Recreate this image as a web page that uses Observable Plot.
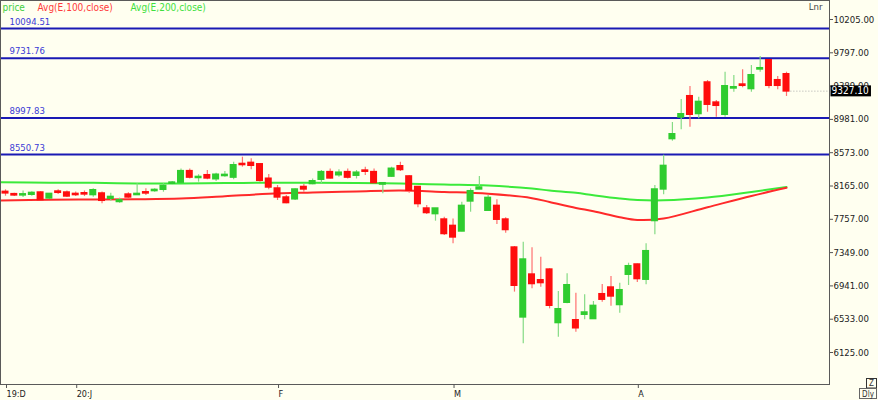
<!DOCTYPE html>
<html><head><meta charset="utf-8">
<script src="https://cdn.jsdelivr.net/npm/d3@7"></script>
<script src="https://cdn.jsdelivr.net/npm/@observablehq/plot@0.6"></script>
<style>
html,body{margin:0;padding:0;background:#fffff0;}
</style></head><body><div id="chart"></div>
<script>
// ---- data ----
const opens  = [8090,8062,8053,8061,8082,8016,8094,8082,8065,8073,8057,8070,8012,7972,8057,8057,8085,8106,8122,8196,8209,8344,8266,8294,8251,8290,8271,8432,8445,8428,8251,8131,8021,8005,8150,8192,8245,8332,8300,8332,8294,8351,8332,8186,8283,8404,8279,8150,7886,7824,7751,7673,7611,7979,8126,7865,7918,7751,7408,6558,7077,7007,7138,6489,6738,6517,6591,6538,6836,6918,6710,7081,7200,7020,7739,8126,8743,9008,9262,9050,9430,9184,9041,9363,9405,9356,9596,9703,9458,9531];
const highs  = [8118,8077,8104,8094,8094,8073,8118,8104,8092,8104,8131,8092,8077,8016,8082,8192,8131,8131,8192,8220,8373,8373,8303,8355,8320,8344,8457,8518,8499,8437,8306,8171,8049,8131,8183,8251,8355,8373,8364,8373,8355,8396,8373,8204,8396,8457,8294,8159,7926,7890,7783,7762,7967,8131,8282,8049,7996,7776,7424,7476,7408,7293,7151,6873,7089,6852,6832,6750,6958,7056,6974,7219,7209,7457,8171,8543,8943,9225,9384,9253,9458,9213,9559,9519,9589,9641,9752,9710,9507,9559];
const lows   = [8040,8036,8024,8040,7987,8000,8061,8024,8036,8036,8028,7947,7979,7954,8016,8049,8049,8089,8089,8180,8199,8251,8212,8241,8220,8271,8241,8396,8364,8211,8119,7987,7947,7987,8089,8180,8192,8251,8271,8251,8251,8294,8192,8070,8271,8343,8077,7898,7815,7734,7559,7456,7605,7844,8120,7858,7693,7587,6865,6231,6906,6924,6660,6313,6722,6374,6525,6530,6742,6693,6607,6946,6983,6955,7567,8057,8714,8854,8886,8988,9069,9008,9008,9314,9368,9314,9559,9356,9344,9262];
const closes = [8078,8053,8060,8077,7996,8065,8085,8040,8057,8065,8110,7987,8028,7987,8028,8065,8077,8114,8163,8204,8344,8271,8273,8261,8300,8298,8416,8425,8416,8232,8150,8028,7959,8119,8126,8220,8332,8261,8325,8271,8325,8343,8204,8196,8373,8364,8110,7947,7837,7886,7580,7538,7918,8098,8143,8016,7755,7629,6946,7261,6967,6979,6701,6652,6946,6425,6612,6693,6775,6815,6885,7179,7028,7363,8119,8408,8796,9041,9041,9192,9164,9151,9384,9372,9396,9519,9605,9396,9396,9327.1];

// moving averages read at these bar positions
const emaBars = [-0.5,5,10,15,20,25,30,35,40,45,50,55,60,62,65,67,70,72,75,80,85,89];
const ema100  = [7987,7996,8000,8003,8012,8040,8070,8085,8098,8110,8092,8070,8016,7969,7896,7856,7783,7749,7767,7905,8043,8143];
const ema200  = [8212,8204,8204,8196,8196,8202,8204,8204,8202,8196,8183,8171,8134,8110,8082,8052,8012,7994,7990,8024,8092,8153];

const levels = [10094.51, 9731.76, 8997.83, 8550.73];
const yTicks = [10205,9797,9389,8981,8573,8165,7757,7349,6941,6533,6125];
const xTickBars = [0, 8, 31, 51, 72];
const xTickLabels = ["19:D", "20:J", "F", "M", "A"];
const legendItems = ["price", "Avg(E,100,close)", "Avg(E,200,close)"];

// ---- build tables ----
const candles = opens.map((o, i) => ({i, o, h: highs[i], l: lows[i], c: closes[i]}));
const ema100T = emaBars.map((i, k) => ({i, v: ema100[k]}));
const ema200T = emaBars.map((i, k) => ({i, v: ema200[k]}));
const last = candles[candles.length - 1];

const RED = "#ff0d0d", GREEN = "#2fcc2f";
const RED_W = "#ff7070", GREEN_W = "#85db85";
const FONT = "'DejaVu Sans Condensed','Liberation Sans',sans-serif";
const X_DOMAIN = [-0.57, 93.9];

const chart = Plot.plot({
  width: 878, height: 400,
  marginLeft: 0, marginRight: 49, marginTop: 0, marginBottom: 16,
  style: {fontFamily: FONT, fontSize: "9px", background: "#fffff0", color: "#333"},
  x: {type: "linear", domain: X_DOMAIN, label: null},
  y: {type: "linear", domain: [5733, 10437.8], label: null},
  marks: [
    Plot.ruleY(levels, {stroke: "#1a1ab4", strokeWidth: 2}),
    Plot.text(levels, {y: d => d, text: d => d.toFixed(2), frameAnchor: "left", dx: 9, dy: -7, textAnchor: "start", fill: "#3a3ad6", fontSize: 9.5}),
    Plot.line(ema200T, {x: "i", y: "v", stroke: "#3bea3b", strokeWidth: 2, curve: "catmull-rom"}),
    Plot.line(ema100T, {x: "i", y: "v", stroke: "#ff2a2a", strokeWidth: 2, curve: "catmull-rom"}),
    Plot.ruleX(candles, {x: "i", y1: "l", y2: "h", stroke: d => d.c >= d.o ? GREEN_W : RED_W, strokeWidth: 1.2}),
    Plot.rect(candles, {x1: d => d.i - 0.4, x2: d => d.i + 0.4, y1: "o", y2: "c", fill: d => d.c >= d.o ? GREEN : RED, insetTop: -1, insetBottom: -1}),
    Plot.ruleY([last], {y: "c", x1: d => d.i + 0.5, x2: X_DOMAIN[1], stroke: "#aaa", strokeDasharray: "1,2"}),
    Plot.frame({stroke: "#5a5a5a"}),
    Plot.axisY({anchor: "right", label: null, ticks: yTicks, tickFormat: d => d.toFixed(2), tickSize: 3, tickPadding: 1, fill: "#222", stroke: "#555", fontSize: 9.5}),
    Plot.axisX({anchor: "bottom", label: null, ticks: xTickBars, tickFormat: d => xTickLabels[xTickBars.indexOf(d)], tickSize: 4, tickPadding: 2, textAnchor: "start", dx: 1, fill: "#222", stroke: "#555", fontSize: 9}),
    Plot.text([legendItems[0]], {frameAnchor: "top-left", dx: 2, dy: 3, textAnchor: "start", lineAnchor: "top", fill: "#3fcf3f", fontSize: 10}),
    Plot.text([legendItems[1]], {frameAnchor: "top-left", dx: 37, dy: 3, textAnchor: "start", lineAnchor: "top", fill: "#ff3b3b", fontSize: 10}),
    Plot.text([legendItems[2]], {frameAnchor: "top-left", dx: 130, dy: 3, textAnchor: "start", lineAnchor: "top", fill: "#3fdf3f", fontSize: 10}),
    Plot.text(["Lnr"], {frameAnchor: "top-right", dx: -7, dy: 3, textAnchor: "end", lineAnchor: "top", fill: "#444", fontSize: 9.5}),
    Plot.text([last], {y: "c", text: d => d.c.toFixed(2), frameAnchor: "right", dx: 2, textAnchor: "start", fill: "white", fontSize: 10, className: "lastprice"})
  ]
});
document.getElementById("chart").appendChild(chart);

// black box behind the last-price label
const svg = d3.select(chart);
const lp = chart.querySelector(".lastprice");
if (lp) {
  const bb = lp.getBBox();
  const r = document.createElementNS("http://www.w3.org/2000/svg", "rect");
  r.setAttribute("x", bb.x - 1); r.setAttribute("y", bb.y);
  r.setAttribute("width", bb.width + 3); r.setAttribute("height", bb.height);
  r.setAttribute("fill", "#000");
  lp.insertBefore(r, lp.firstChild);
}
// small Z / Dly boxes at bottom right
const box = svg.append("g").attr("font-family", FONT).attr("font-size", 8).attr("fill", "#333");
box.append("rect").attr("x", 866.5).attr("y", 378.5).attr("width", 10).attr("height", 9.5).attr("fill", "none").attr("stroke", "#333");
box.append("text").attr("x", 871.5).attr("y", 386).attr("text-anchor", "middle").text("Z");
box.append("rect").attr("x", 859.5).attr("y", 388.5).attr("width", 17).attr("height", 10).attr("fill", "none").attr("stroke", "#666");
box.append("text").attr("x", 868).attr("y", 396.5).attr("text-anchor", "middle").text("Dly");
</script>
</body></html>
